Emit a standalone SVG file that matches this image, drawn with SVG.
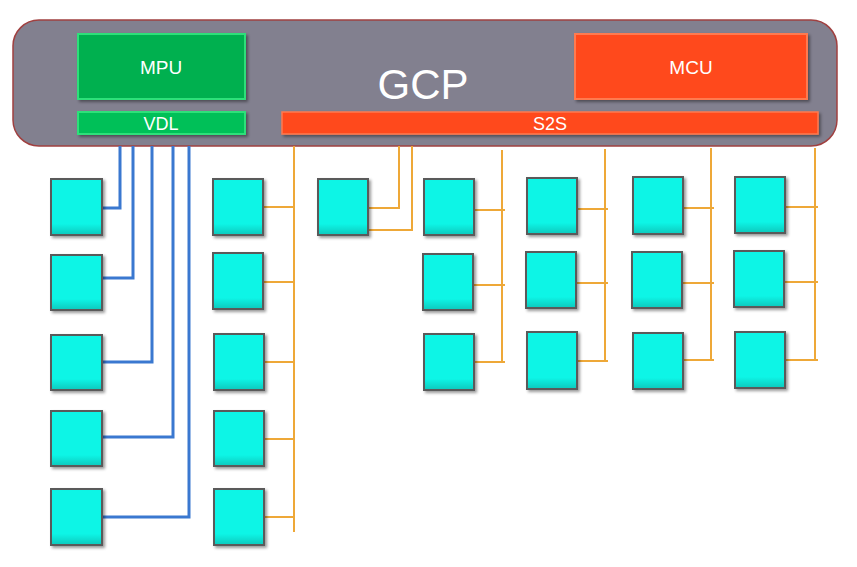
<svg xmlns="http://www.w3.org/2000/svg" width="857" height="567" viewBox="0 0 857 567">
<defs>
<linearGradient id="cy" x1="0" y1="0" x2="0" y2="1"><stop offset="0.8" stop-color="#0ff5e6"/><stop offset="1" stop-color="#0cc8bc"/></linearGradient>
<filter id="sh" x="-20%" y="-20%" width="150%" height="150%"><feDropShadow dx="2" dy="2" stdDeviation="1.5" flood-opacity="0.4"/></filter>
</defs>
<style>
.n{fill:url(#cy);stroke:#5a5a5a;stroke-width:2;filter:url(#sh)}
.b{stroke:#3a78d0;stroke-width:3;fill:none}
.o{stroke:#eea838;stroke-width:2;fill:none}
.t{font-family:"Liberation Sans",Arial,sans-serif;fill:#fff;text-anchor:middle}
</style>
<g id="gcp">
<rect x="13" y="20" width="824" height="126" rx="26" fill="#82808f" stroke="#a04040" stroke-width="1.5"/>
<text class="t" x="423" y="99" font-size="42">GCP</text>
</g>
<g id="mpu"><rect x="78" y="34" width="167" height="65" fill="#00b050" stroke="#2ee07a" stroke-width="2" filter="url(#sh)"/><text class="t" x="161" y="74" font-size="19">MPU</text></g>
<g id="vdl"><rect x="78" y="112" width="167" height="22" fill="#00c058" stroke="#2ee07a" stroke-width="2" filter="url(#sh)"/><text class="t" x="161" y="130" font-size="18">VDL</text></g>
<g id="mcu"><rect x="575" y="34" width="232" height="65" fill="#ff4a1a" stroke="#ff7a50" stroke-width="2" filter="url(#sh)"/><text class="t" x="691" y="74" font-size="19">MCU</text></g>
<g id="s2s"><rect x="282" y="112" width="536" height="22" fill="#ff4a1a" stroke="#ff7a50" stroke-width="1.5" filter="url(#sh)"/><text class="t" x="550" y="130" font-size="18">S2S</text></g>
<g id="connectors">
<path class="b" d="M120 146V208H102M133 146V278H102M152 146V362H102M173 146V437H102M189 146V517H102"/>
<path class="o" d="M294 146V532M263 207H294M263 282H294M263 362H294M263 439H294M263 517H294"/>
<path class="o" d="M399 146V208H368M412 146V230H368"/>
<path class="o" d="M502 150V362M474 210H505M474 285H505M474 362H505"/>
<path class="o" d="M605 149V361M577 209H608M577 283H608M577 361H608"/>
<path class="o" d="M711 148V360M683 208H714M683 283H714M683 360H714"/>
<path class="o" d="M815 148V360M785 207H818M785 282H818M785 360H818"/>
</g>
<g id="nodes">
<rect class="n" x="51" y="179" width="51" height="56"/>
<rect class="n" x="51" y="255" width="51" height="55"/>
<rect class="n" x="51" y="335" width="51" height="55"/>
<rect class="n" x="51" y="411" width="51" height="55"/>
<rect class="n" x="51" y="489" width="51" height="56"/>
<rect class="n" x="213" y="179" width="50" height="56"/>
<rect class="n" x="213" y="253" width="50" height="56"/>
<rect class="n" x="214" y="334" width="50" height="56"/>
<rect class="n" x="214" y="411" width="50" height="55"/>
<rect class="n" x="214" y="489" width="50" height="56"/>
<rect class="n" x="318" y="179" width="50" height="56"/>
<rect class="n" x="424" y="179" width="50" height="56"/>
<rect class="n" x="423" y="254" width="50" height="56"/>
<rect class="n" x="424" y="334" width="50" height="56"/>
<rect class="n" x="527" y="178" width="50" height="56"/>
<rect class="n" x="526" y="252" width="50" height="56"/>
<rect class="n" x="527" y="332" width="50" height="57"/>
<rect class="n" x="633" y="177" width="50" height="57"/>
<rect class="n" x="632" y="252" width="50" height="56"/>
<rect class="n" x="633" y="333" width="50" height="56"/>
<rect class="n" x="735" y="177" width="50" height="56"/>
<rect class="n" x="734" y="251" width="50" height="56"/>
<rect class="n" x="735" y="332" width="50" height="56"/>
</g>
</svg>
